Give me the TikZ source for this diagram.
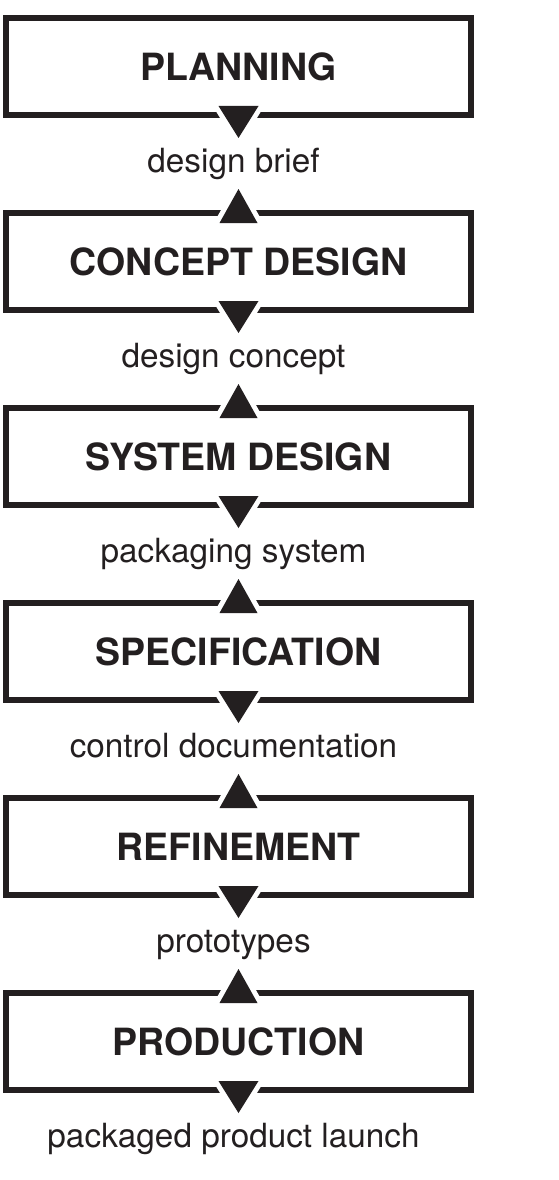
\documentclass[tikz,border=0pt]{standalone}
\usepackage{fontspec}
\setmainfont{TeX Gyre Heros}
\usetikzlibrary{calc}
\definecolor{ink}{HTML}{231F20}
\tikzset{
  stage/.style={draw=ink, line width=6pt, minimum width=465pt, minimum height=97pt,
    inner sep=0pt, outer sep=0pt, text=ink, font=\fontsize{37.5}{42}\selectfont\bfseries},
  outlabel/.style={text=ink, font=\fontsize{33.3}{38}\selectfont, inner sep=0pt, anchor=base},
  tri/.style={fill=ink, preaction={draw=white, line width=10pt, line join=round}}
}
\begin{document}
\begin{tikzpicture}[x=1pt,y=1pt]
\useasboundingbox (0,0) rectangle (558,-1180);
\foreach \i/\t in {1/PLANNING, 2/CONCEPT DESIGN, 3/SYSTEM DESIGN, 4/SPECIFICATION, 5/REFINEMENT, 6/PRODUCTION}{
  \node[stage] (b\i) at (238.5,{-66.5-195*(\i-1)}) {\t};
}
\foreach \i/\l in {1/design brief, 2/design concept, 3/packaging system, 4/control documentation, 5/prototypes, 6/packaged product launch}{
  \node[outlabel] (l\i) at ($(b\i.south)+(-5,-57)$) {\l};
  \fill[tri] ($(b\i.south)+(-20,9)$) -- ($(b\i.south)+(20,9)$) -- ($(b\i.south)+(0,-23)$) -- cycle;
}
\foreach \i in {2,...,6}{
  \fill[tri] ($(b\i.north)+(-19,-10)$) -- ($(b\i.north)+(19,-10)$) -- ($(b\i.north)+(0,24)$) -- cycle;
}
\end{tikzpicture}
\end{document}
